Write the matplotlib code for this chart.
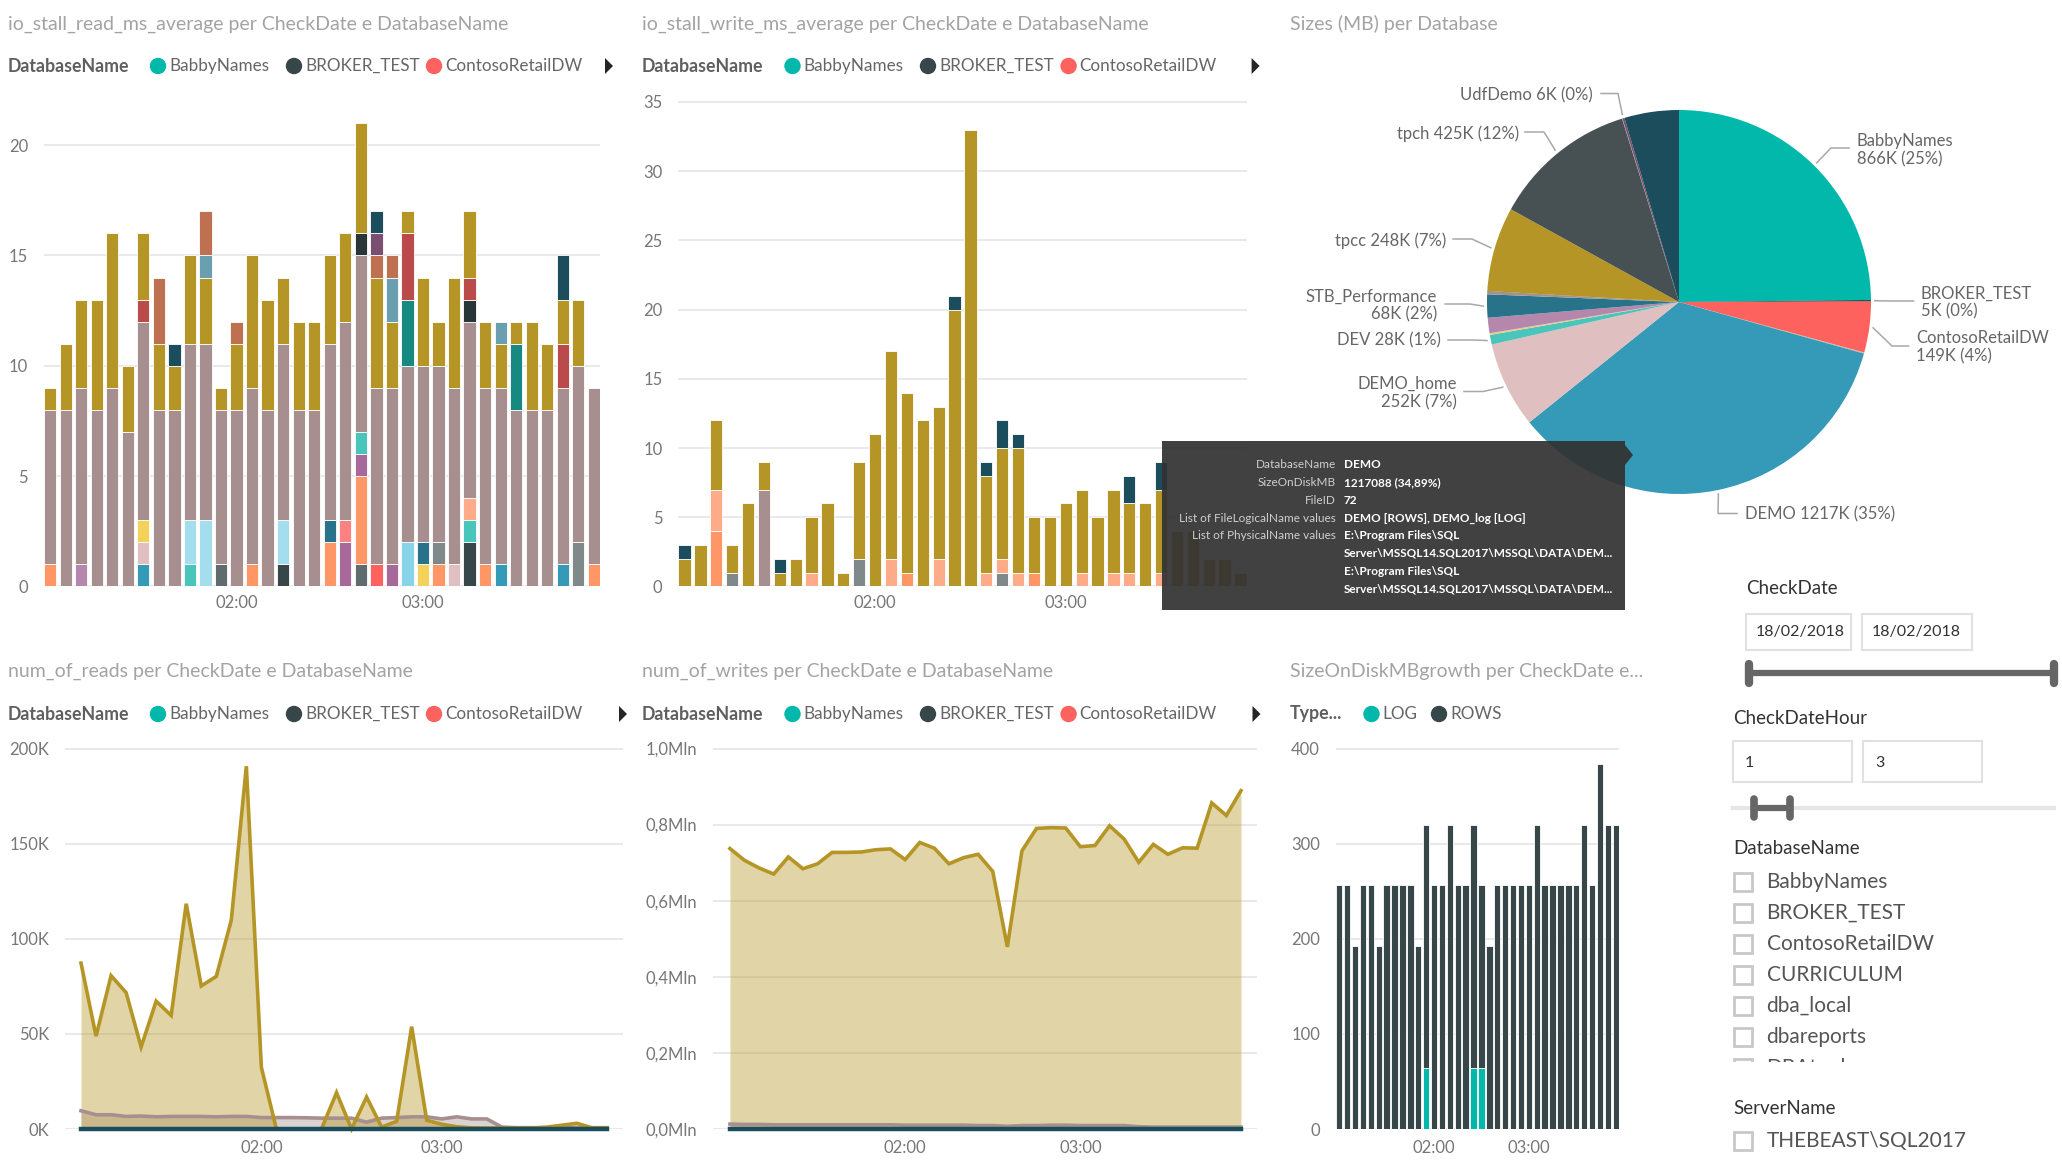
import numpy as np
import pandas as pd
import matplotlib
matplotlib.use("Agg")
import matplotlib.pyplot as plt
from matplotlib.patches import Rectangle, Circle, Polygon
from matplotlib.lines import Line2D
from matplotlib.transforms import Affine2D, Bbox

W, H = 2062, 1169
plt.rcParams['font.family'] = ['Lato', 'DejaVu Sans']

# ---------------------------------------------------------------- data
CHECK_DATES = pd.date_range("2018-02-18 01:00", periods=36, freq="5min")
TICK_POS = [12, 24]

DB_NAMES = ["BabbyNames", "BROKER_TEST", "ContosoRetailDW", "CURRICULUM", "dba_local",
            "dbareports", "DBAtools", "db_08", "DEMO", "DEMO_home", "DEV", "db_12",
            "db_13", "db_14", "db_15", "db_16", "db_17", "STB_Performance", "db_19",
            "db_20", "db_21", "db_22", "tpcc", "tpch", "db_25", "db_26", "UdfDemo", "db_28"]
DB_COLORS = ["#01B8AA", "#374649", "#FD625E", "#F2C80F", "#5F6B6D", "#8AD4EB", "#FE9666",
             "#A66999", "#3599B8", "#DFBFBF", "#4AC5BB", "#FB8281", "#F4D25A", "#7F898A",
             "#A4DDEE", "#FDAB89", "#B687AC", "#28738A", "#A78F8F", "#168980", "#293537",
             "#BB4A4A", "#B59525", "#475052", "#6A9FB0", "#BD7150", "#7B4F71", "#1B4D5C"]

# io_stall_read_ms_average (stacked per database)
R_BROKER_TEST = [0,0,0,0,0,0, 0,0,0,0,0,0, 0,0,0,1,0,0, 0,0,0,0,0,0, 0,0,0,2,0,0, 0,0,0,0,0,0]
R_CONTOSO     = [0,0,0,0,0,0, 0,0,0,0,0,0, 0,0,0,0,0,0, 0,0,0,1,0,0, 0,0,0,0,0,0, 0,0,0,0,0,0]
R_DBA_LOCAL   = [0,0,0,0,0,0, 0,0,0,0,0,1, 0,0,0,0,0,0, 0,0,1,0,0,0, 0,0,0,0,0,0, 0,0,0,0,0,0]
R_DBAREPORTS  = [0,0,0,0,0,0, 0,0,0,0,0,0, 0,0,0,0,0,0, 0,0,0,0,0,2, 0,0,0,0,0,0, 0,0,0,0,0,0]
R_DBATOOLS    = [1,0,0,0,0,0, 0,0,0,0,0,0, 0,1,0,0,0,0, 2,0,4,0,0,0, 0,1,0,0,1,0, 0,0,0,0,0,1]
R_DB08        = [0,0,0,0,0,0, 0,0,0,0,0,0, 0,0,0,0,0,0, 0,2,1,0,1,0, 0,0,0,0,0,0, 0,0,0,0,0,0]
R_DEMO        = [0,0,0,0,0,0, 1,0,0,0,0,0, 0,0,0,0,0,0, 0,0,0,0,0,0, 0,0,0,0,0,1, 0,0,0,1,0,0]
R_DEMO_HOME   = [0,0,0,0,0,0, 1,0,0,0,0,0, 0,0,0,0,0,0, 0,0,0,0,0,0, 0,0,1,0,0,0, 0,0,0,0,0,0]
R_DEV         = [0,0,0,0,0,0, 0,0,0,1,0,0, 0,0,0,0,0,0, 0,0,1,0,0,0, 0,0,0,1,0,0, 0,0,0,0,0,0]
R_DB12        = [0,0,0,0,0,0, 0,0,0,0,0,0, 0,0,0,0,0,0, 0,1,0,0,0,0, 0,0,0,0,0,0, 0,0,0,0,0,0]
R_DB13        = [0,0,0,0,0,0, 1,0,0,0,0,0, 0,0,0,0,0,0, 0,0,0,0,0,0, 1,0,0,0,0,0, 0,0,0,0,0,0]
R_DB14        = [0,0,0,0,0,0, 0,0,0,0,0,0, 0,0,0,0,0,0, 0,0,0,0,0,0, 0,1,0,0,0,0, 0,0,0,0,2,0]
R_DB15        = [0,0,0,0,0,0, 0,0,0,2,3,0, 0,0,0,2,0,0, 0,0,0,0,0,0, 0,0,0,0,0,0, 0,0,0,0,0,0]
R_DB16        = [0,0,0,0,0,0, 0,0,0,0,0,0, 0,0,0,0,0,0, 0,0,0,0,0,0, 0,0,0,1,0,0, 0,0,0,0,0,0]
R_DB17        = [0,0,1,0,0,0, 0,0,0,0,0,0, 0,0,0,0,0,0, 0,0,0,0,0,0, 0,0,0,0,0,0, 0,0,0,0,0,0]
R_STB         = [0,0,0,0,0,0, 0,0,0,0,0,0, 0,0,0,0,0,0, 1,0,0,0,0,0, 1,0,0,0,0,0, 0,0,0,0,0,0]
R_DB19        = [7,8,8,8,9,7, 9,8,8,8,8,7, 8,8,8,8,8,8, 8,9,8,8,8,8, 8,8,8,8,8,8, 8,8,8,8,8,8]
R_DB20        = [0,0,0,0,0,0, 0,0,0,0,0,0, 0,0,0,0,0,0, 0,0,0,0,0,3, 0,0,0,0,0,0, 3,0,0,0,0,0]
R_DB21        = [0,0,0,0,0,0, 0,0,0,0,0,0, 0,0,0,0,0,0, 0,0,1,0,0,0, 0,0,0,1,0,0, 0,0,0,0,0,0]
R_DB22        = [0,0,0,0,0,0, 1,0,0,0,0,0, 0,0,0,0,0,0, 0,0,0,0,0,3, 0,0,0,1,0,0, 0,0,0,2,0,0]
R_TPCC        = [1,3,4,5,7,3, 3,3,2,4,3,1, 3,6,5,3,4,4, 4,4,5,5,3,1, 4,2,5,3,3,2, 1,4,3,2,3,0]
R_DB25        = [0,0,0,0,0,0, 0,0,0,0,1,0, 0,0,0,0,0,0, 0,0,0,0,2,0, 0,0,0,0,0,1, 0,0,0,0,0,0]
R_DB26        = [0,0,0,0,0,0, 0,3,0,0,2,0, 1,0,0,0,0,0, 0,0,0,1,1,0, 0,0,0,0,0,0, 0,0,0,0,0,0]
R_UDFDEMO     = [0,0,0,0,0,0, 0,0,0,0,0,0, 0,0,0,0,0,0, 0,0,0,1,0,0, 0,0,0,0,0,0, 0,0,0,0,0,0]
R_DB28        = [0,0,0,0,0,0, 0,0,1,0,0,0, 0,0,0,0,0,0, 0,0,0,1,0,0, 0,0,0,0,0,0, 0,0,0,2,0,0]

# io_stall_write_ms_average (stacked per database)
W_DBATOOLS = [0,0,4,0,0,0, 0,0,0,0,0,0, 0,0,1,0,0,0, 0,0,0,0,1,0, 0,0,0,0,0,0, 0,0,0,0,0,0]
W_DB14     = [0,0,0,1,0,0, 0,0,0,0,0,2, 0,0,0,0,0,0, 0,0,1,0,0,0, 0,0,0,0,0,0, 0,0,0,0,0,0]
W_DB16     = [0,0,3,0,0,0, 0,0,1,0,0,0, 0,2,0,0,2,0, 0,1,1,1,0,0, 0,1,0,1,1,0, 1,0,0,0,0,0]
W_DB19     = [0,0,0,0,0,7, 0,0,0,0,0,0, 0,0,0,0,0,0, 0,0,0,0,0,0, 0,0,0,0,0,0, 0,0,0,0,0,0]
W_TPCC     = [2,3,5,2,6,2, 1,2,4,6,1,7, 11,15,13,12,11,20, 33,7,8,9,4,5, 6,6,5,6,5,6, 6,4,4,2,2,1]
W_DB28     = [1,0,0,0,0,0, 1,0,0,0,0,0, 0,0,0,0,0,1, 0,1,2,1,0,0, 0,0,0,0,2,0, 2,0,0,0,0,0]

# num_of_reads (thousands)
NR_DB19 = [9.6,7.5,7.5,6.6,6.8,6.4, 6.6,6.6,6.6,6.4,6.6,6.6, 6.0,6.0,6.0,5.9,5.7,5.7,
           5.7,3.6,5.7,6.0,6.4,6.4, 5.3,6.4,5.3,5.3,1.0,0.7, 0.7,0.7,0.7,0.7,0.7,0.7]
NR_TPCC = [87.2,48.8,80.6,71.7,43.1,67.2, 59.7,118.4,75.2,80.2,109.8,190.7, 32.4,0,0,0,0,19.1,
           0,16.8,1.0,4.0,53.8,4.6, 2.5,1.2,0.6,0.5,0.5,0.5, 0.5,1.0,2.0,3.0,0.6,0.5]
NR_DB28 = [0.2,0.2,0.2,0.2,0.2,0.2, 0.2,0.2,0.2,0.2,0.2,0.2, 0.2,0.2,0.2,0.2,0.2,0.2,
           0.2,0.2,0.2,0.2,0.2,0.2, 0.2,0.2,0.2,0.2,0.2,0.2, 0.2,0.2,0.2,0.2,0.2,0.2]

# num_of_writes (millions)
NW_DB19 = [0.013,0.012,0.012,0.011,0.011,0.011, 0.011,0.011,0.011,0.011,0.011,0.011,
           0.010,0.010,0.010,0.010,0.010,0.009, 0.009,0.007,0.009,0.009,0.010,0.010,
           0.009,0.009,0.009,0.009,0.006,0.005, 0.005,0.005,0.005,0.005,0.005,0.005]
NW_TPCC = [0.737,0.706,0.686,0.670,0.715,0.684, 0.697,0.727,0.727,0.728,0.734,0.736,
           0.708,0.753,0.738,0.697,0.713,0.722, 0.677,0.479,0.731,0.790,0.792,0.791,
           0.742,0.745,0.797,0.762,0.701,0.748, 0.722,0.739,0.738,0.857,0.824,0.889]
NW_DB28 = [0.001,0.001,0.001,0.001,0.001,0.001, 0.001,0.001,0.001,0.001,0.001,0.001,
           0.001,0.001,0.001,0.001,0.001,0.001, 0.001,0.001,0.001,0.001,0.001,0.001,
           0.001,0.001,0.001,0.001,0.001,0.001, 0.001,0.001,0.001,0.001,0.001,0.001]

# SizeOnDiskMBgrowth
G_LOG  = [0,0,0,0,0,0, 0,0,0,0,0,64, 0,0,0,0,0,64, 64,0,0,0,0,0, 0,0,0,0,0,0, 0,0,0,0,0,0]
G_ROWS = [256,256,192,256,256,192, 256,256,256,256,192,256, 256,256,320,256,256,256,
          192,192,256,256,256,256, 256,320,256,256,256,256, 256,320,256,384,320,320]
G_TYPES = ["LOG", "ROWS"]
G_COLORS = ["#01B8AA", "#374649"]

# Sizes (MB) per database
PIE_MB = [866000, 5000, 149000, 600, 500, 700, 800, 600, 1217088, 252000, 28000, 500,
          3000, 600, 500, 700, 45000, 68000, 7370, 800, 700, 600, 248000, 425000, 700,
          600, 6000, 160000]

SLICER_DBS = ["BabbyNames", "BROKER_TEST", "ContosoRetailDW", "CURRICULUM", "dba_local",
              "dbareports", "DBAtools"]

# ---------------------------------------------------------------- figure
fig = plt.figure(figsize=(W / 100, H / 100), dpi=100)
fig.patch.set_facecolor("white")
PX = Affine2D().scale(1, -1).translate(0, H)   # pixel coords, origin top-left

TITLE_C = "#a3a3a3"
LEG_C = "#666666"
TICK_C = "#777777"
GRID_C = "#e9e9e9"


def txt(x, y, s, size, color, ha="left", va="center", weight="normal", **kw):
    return fig.text(x, y, s, transform=PX, fontsize=size, color=color, ha=ha, va=va,
                    fontweight=weight, **kw)


def ax_at(left, top, right, bottom):
    return fig.add_axes([left / W, 1 - bottom / H, (right - left) / W, (bottom - top) / H])


def style(ax, yticks, ylabels, xlim, ylim):
    for s in ax.spines.values():
        s.set_visible(False)
    ax.set_xlim(*xlim)
    ax.set_ylim(*ylim)
    ax.set_yticks(yticks)
    ax.set_yticklabels(ylabels)
    ax.set_xticks(TICK_POS)
    ax.set_xticklabels([CHECK_DATES[i].strftime("%H:%M") for i in TICK_POS])
    ax.yaxis.grid(True, color=GRID_C, lw=1.4)
    ax.set_axisbelow(True)
    ax.tick_params(length=0, labelsize=12, labelcolor=TICK_C)
    ax.tick_params(axis="y", pad=11.5)
    ax.patch.set_alpha(0)


def legend_row(x0, y, title, items, arrow_x=None):
    txt(x0, y, title, 12.8, "#5f5f5f", weight="bold")
    for cx, label, color in items:
        fig.add_artist(Circle((cx, y), 8.2, transform=PX, color=color, lw=0))
        txt(cx + 11, y, label, 12.3, LEG_C)
    if arrow_x is not None:
        fig.add_artist(Polygon([(arrow_x - 4, y - 8), (arrow_x + 4, y), (arrow_x - 4, y + 8)],
                               closed=True, transform=PX, color="#252525", lw=0))


def stacked(ax, series, width):
    x = np.arange(len(CHECK_DATES))
    bottom = np.zeros(len(x))
    for vals, col in series:
        v = np.asarray(vals, dtype=float)
        m = v > 0
        ax.bar(x[m], v[m], bottom=bottom[m], width=width, color=col,
               edgecolor="white", linewidth=0.6)
        bottom += v


def col(name):
    return DB_COLORS[DB_NAMES.index(name)]


db_items_p1 = [(158, "BabbyNames", col("BabbyNames")), (294, "BROKER_TEST", col("BROKER_TEST")),
               (434, "ContosoRetailDW", col("ContosoRetailDW"))]
db_items_p2 = [(792.5, "BabbyNames", col("BabbyNames")), (928, "BROKER_TEST", col("BROKER_TEST")),
               (1068.6, "ContosoRetailDW", col("ContosoRetailDW"))]

# ---------------- panel 1 : io_stall_read
txt(8, 24, "io_stall_read_ms_average per CheckDate e DatabaseName", 14, TITLE_C)
legend_row(8, 66, "DatabaseName", db_items_p1, arrow_x=609)
ax1 = ax_at(44, 586.5 - 22 * 22.07, 600, 586.5)
read_series = [
    (R_BROKER_TEST, col("BROKER_TEST")), (R_CONTOSO, col("ContosoRetailDW")),
    (R_DBA_LOCAL, col("dba_local")), (R_DBAREPORTS, col("dbareports")),
    (R_DBATOOLS, col("DBAtools")), (R_DB08, col("db_08")), (R_DEMO, col("DEMO")),
    (R_DEMO_HOME, col("DEMO_home")), (R_DEV, col("DEV")), (R_DB12, col("db_12")),
    (R_DB13, col("db_13")), (R_DB14, col("db_14")), (R_DB15, col("db_15")),
    (R_DB16, col("db_16")), (R_DB17, col("db_17")), (R_STB, col("STB_Performance")),
    (R_DB19, col("db_19")), (R_DB20, col("db_20")), (R_DB21, col("db_21")),
    (R_DB22, col("db_22")), (R_TPCC, col("tpcc")), (R_DB25, col("db_25")),
    (R_DB26, col("db_26")), (R_UDFDEMO, col("UdfDemo")), (R_DB28, col("db_28"))]
stacked(ax1, read_series, 0.79)
style(ax1, [0, 5, 10, 15, 20], ["0", "5", "10", "15", "20"], (-0.395, 35.395), (0, 22))
ax1.tick_params(axis="x", pad=6)

# ---------------- panel 2 : io_stall_write
txt(642, 24, "io_stall_write_ms_average per CheckDate e DatabaseName", 14, TITLE_C)
legend_row(642, 66, "DatabaseName", db_items_p2, arrow_x=1255.6)
ax2 = ax_at(678.4, 586.5 - 35.3 * 13.843, 1246.6, 586.5)
write_series = [(W_DBATOOLS, col("DBAtools")), (W_DB14, col("db_14")), (W_DB16, col("db_16")),
                (W_DB19, col("db_19")), (W_TPCC, col("tpcc")), (W_DB28, col("db_28"))]
stacked(ax2, write_series, 0.77)
style(ax2, [0, 5, 10, 15, 20, 25, 30, 35], [str(v) for v in [0, 5, 10, 15, 20, 25, 30, 35]],
      (-0.385, 35.385), (0, 35.3))
ax2.tick_params(axis="x", pad=6)

# ---------------- panel 4 : num_of_reads
txt(8, 671, "num_of_reads per CheckDate e DatabaseName", 14, TITLE_C)
legend_row(8, 714, "DatabaseName", db_items_p1, arrow_x=623)
ax4 = ax_at(65, 1129 - 4.04 * 95.125, 623, 1129)
xs = np.arange(len(CHECK_DATES))
for vals, c, lw in [(NR_DB19, col("db_19"), 2.6), (NR_TPCC, col("tpcc"), 2.6),
                    (NR_DB28, col("db_28"), 3.2)]:
    ax4.fill_between(xs, vals, color=c, alpha=0.4, lw=0)
    ax4.plot(xs, vals, color=c, lw=lw, clip_on=False, solid_joinstyle="miter")
style(ax4, [0, 50, 100, 150, 200], ["0K", "50K", "100K", "150K", "200K"],
      (-1.065, 36.06), (0, 202))
ax4.tick_params(axis="x", pad=8)

# ---------------- panel 5 : num_of_writes
txt(642, 671, "num_of_writes per CheckDate e DatabaseName", 14, TITLE_C)
legend_row(642, 714, "DatabaseName", db_items_p2, arrow_x=1256.5)
ax5 = ax_at(713, 1129 - 4.04 * 95.125, 1257, 1129)
for vals, c, lw in [(NW_DB19, col("db_19"), 2.6), (NW_TPCC, col("tpcc"), 2.6),
                    (NW_DB28, col("db_28"), 3.2)]:
    ax5.fill_between(xs, vals, color=c, alpha=0.4, lw=0)
    ax5.plot(xs, vals, color=c, lw=lw, clip_on=False, solid_joinstyle="miter")
style(ax5, [0, 0.2, 0.4, 0.6, 0.8, 1.0],
      ["0,0Mln", "0,2Mln", "0,4Mln", "0,6Mln", "0,8Mln", "1,0Mln"], (-1.16, 36.1), (0, 1.01))
ax5.tick_params(axis="x", pad=8)

# ---------------- panel 6 : SizeOnDiskMBgrowth
txt(1290, 671, "SizeOnDiskMBgrowth per CheckDate e...", 14, TITLE_C)
txt(1290, 714, "Type...", 12.8, "#5f5f5f", weight="bold")
for cx, lab, c in [(1371.5, G_TYPES[0], G_COLORS[0]), (1439, G_TYPES[1], G_COLORS[1])]:
    fig.add_artist(Circle((cx, 714), 8.2, transform=PX, color=c, lw=0))
    txt(cx + 11, 714, lab, 12.3, LEG_C)
ax6 = ax_at(1336, 1129 - 4.04 * 95.125, 1619, 1129)
stacked(ax6, [(G_LOG, G_COLORS[0]), (G_ROWS, G_COLORS[1])], 0.82)
style(ax6, [0, 100, 200, 300, 400], ["0", "100", "200", "300", "400"], (-0.41, 35.41), (0, 404))
ax6.tick_params(axis="x", pad=8)

# ---------------- panel 3 : pie
txt(1290, 24, "Sizes (MB) per Database", 14, TITLE_C)
CX, CY, R = 1679, 302, 192
axp = ax_at(CX - R, CY - R, CX + R, CY + R)
axp.pie(PIE_MB, colors=DB_COLORS, startangle=90, counterclock=False, radius=1,
        wedgeprops=dict(linewidth=0))
axp.set_xlim(-1, 1)
axp.set_ylim(-1, 1)
axp.axis("off")

total = float(sum(PIE_MB))
cum = np.cumsum([0] + PIE_MB)
# label layout: name -> (text x, text y, ha, line start x, elbow x, line y, two lines)
PIE_LAYOUT = {
    "UdfDemo":         (1593, 95,  "right", 1601, 1618, 93.5, False),
    "tpch":            (1519, 134, "right", 1525, 1544, 132, False),
    "tpcc":            (1446, 241, "right", 1453, 1472, 239, False),
    "STB_Performance": (1437, 305.5, "right", 1445, 1470, 304, True),
    "DEV":             (1441, 340, "right", 1448, 1473, 340, False),
    "DEMO_home":       (1457, 393, "right", 1464, 1483, 391.5, True),
    "DEMO":            (1745, 514.6, "left", 1737, 1718, 513.5, False),
    "BabbyNames":      (1857, 150, "left", 1849, 1831, 148, True),
    "BROKER_TEST":     (1921, 302.5, "left", 1913.6, 1890, 301, True),
    "ContosoRetailDW": (1916, 347, "left", 1908.6, 1892, 346, True),
}
for name, (tx, ty, ha, lx0, lx1, ly, two) in PIE_LAYOUT.items():
    i = DB_NAMES.index(name)
    v = PIE_MB[i]
    mid = 2 * np.pi * (cum[i] + v / 2) / total
    ex = CX + R * 1.02 * np.sin(mid)
    ey = CY - R * 1.02 * np.cos(mid)
    lab = f"{v / 1000:.0f}K ({100 * v / total:.0f}%)"
    s = f"{name}\n{lab}" if two else f"{name} {lab}"
    txt(tx, ty, s, 12, "#666666", ha=ha, multialignment=ha, linespacing=1.15)
    fig.add_artist(Line2D([lx0, lx1, ex], [ly, ly, ey], transform=PX, color="#a8a8a8", lw=1.1))

# ---------------- slicers
SL_C = "#333333"
txt(1746, 589, "CheckDate", 13.5, SL_C)
for x0, x1 in [(1746, 1851), (1862, 1972)]:
    fig.add_artist(Rectangle((x0, 614), x1 - x0, 36, transform=PX, fc="white",
                             ec="#e1e1e1", lw=1.5))
    txt(x0 + 10, 632, CHECK_DATES[0].strftime("%d/%m/%Y"), 11.5, SL_C)
fig.add_artist(Line2D([1749, 2054], [673, 673], transform=PX, color="#666666", lw=4.5))
for hx in (1749, 2054):
    fig.add_artist(Line2D([hx, hx], [664, 683], transform=PX, color="#666666", lw=6,
                          solid_capstyle="round"))

txt(1733, 718, "CheckDateHour", 13.5, SL_C)
for (x0, x1), val in zip([(1733, 1852), (1863, 1982)], [CHECK_DATES[0].hour, CHECK_DATES[-1].hour]):
    fig.add_artist(Rectangle((x0, 741), x1 - x0, 41, transform=PX, fc="white",
                             ec="#e1e1e1", lw=1.5))
    txt(x0 + 12, 763, str(val), 11.5, SL_C)
fig.add_artist(Line2D([1733, 2054], [808, 808], transform=PX, color="#e6e6e6", lw=3))
fig.add_artist(Line2D([1754, 1790], [808, 808], transform=PX, color="#666666", lw=4.5))
for hx in (1754, 1790):
    fig.add_artist(Line2D([hx, hx], [799, 817], transform=PX, color="#666666", lw=5.5,
                          solid_capstyle="round"))

txt(1733, 848.5, "DatabaseName", 13.5, SL_C)
clip = Bbox.from_extents(1700, H - 1062, 2062, H - 860)
for k, name in enumerate(SLICER_DBS):
    y = 882 + k * 31
    t = txt(1766.5, y, name, 15, "#555555")
    box = Rectangle((1734, y - 9.5), 18, 18, transform=PX, fc="white", ec="#c8c8c8", lw=2)
    fig.add_artist(box)
    t.set_clip_box(clip)
    t.set_clip_on(True)
    box.set_clip_box(clip)
    box.set_clip_on(True)

txt(1733, 1108, "ServerName", 13.5, SL_C)
txt(1766.5, 1141, r"THEBEAST\SQL2017", 15, "#555555")
fig.add_artist(Rectangle((1734, 1131.5), 18, 18, transform=PX, fc="white", ec="#c8c8c8", lw=2))

# ---------------- tooltip
fig.add_artist(Rectangle((1162, 441), 463, 169, transform=PX, fc="#323232", alpha=0.93,
                         lw=0, zorder=5))
fig.add_artist(Polygon([(1625, 445), (1633, 455), (1625, 465)], closed=True, transform=PX,
                       fc="#323232", alpha=0.93, lw=0, zorder=5))
tip_labels = ["DatabaseName", "SizeOnDiskMB", "FileID", "List of FileLogicalName values",
              "List of PhysicalName values"]
tip_values = ["DEMO", f"{PIE_MB[DB_NAMES.index('DEMO')]} (34,89%)", "72",
              "DEMO [ROWS], DEMO_log [LOG]", r"E:\Program Files\SQL",
              r"Server\MSSQL14.SQL2017\MSSQL\DATA\DEM...", r"E:\Program Files\SQL",
              r"Server\MSSQL14.SQL2017\MSSQL\DATA\DEM..."]
for k, s in enumerate(tip_labels):
    t = txt(1335.7, 465 + k * 17.7, s, 8.5, "#cfcfcf", ha="right")
    t.set_zorder(6)
for k, s in enumerate(tip_values):
    t = txt(1344, 465 + k * 17.7, s, 8.5, "white", weight="bold")
    t.set_zorder(6)

fig.savefig("out.png", dpi=100)
